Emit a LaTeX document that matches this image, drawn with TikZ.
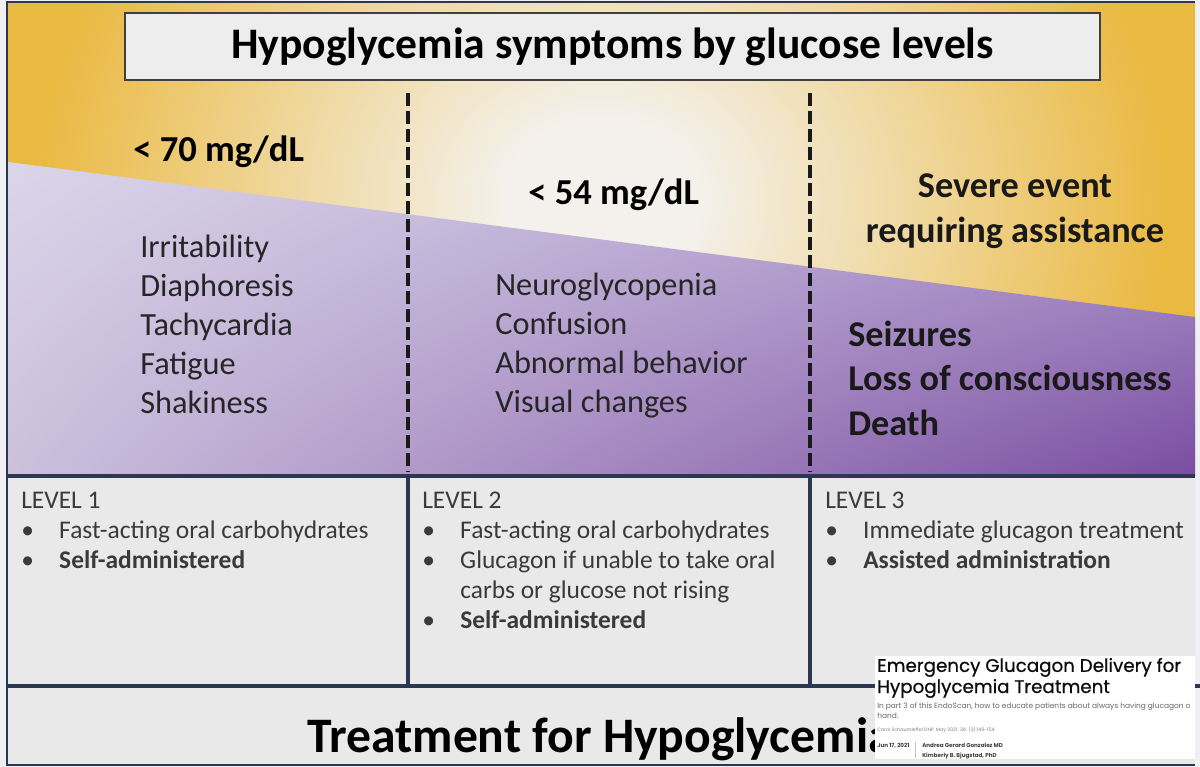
\documentclass[tikz,border=0pt]{standalone}
\usepackage{fontspec}
\setmainfont{Carlito}
\newfontfamily\insetfont{Poppins}
\usetikzlibrary{positioning, shadings}
\definecolor{Gold}{HTML}{EAB941}
\definecolor{Cream}{HTML}{F4F1EC}
\definecolor{LavLight}{HTML}{DAD5E8}
\definecolor{LavMid}{HTML}{CCC0DD}
\definecolor{PurpleMid}{HTML}{B3A0D1}
\definecolor{PurpleDark}{HTML}{7A4DA1}
\definecolor{Frame}{HTML}{2C3850}
\definecolor{BoxGray}{HTML}{E9E9E9}
\definecolor{PageGray}{HTML}{EEF0F3}
\definecolor{InkGray}{HTML}{3A3A3A}
\pgfdeclareradialshading{glow}{\pgfpoint{0bp}{0bp}}{%
  color(0bp)=(Cream); color(4bp)=(Cream); color(24bp)=(Gold); color(40bp)=(Gold)}
\newcommand{\bul}{\makebox[27pt][l]{\textbullet}}

\begin{document}
\begin{tikzpicture}[
    x=0.025cm, y=-0.025cm,
    frame/.style={draw=Frame, line width=2.4pt},
    divider/.style={draw=black!90, line width=3pt, dash pattern=on 8.9pt off 3.9pt},
    titlebox/.style={
      draw = black!75,
      line width = 1.2pt,
      fill = BoxGray!80!white,
      minimum width = 24.375cm,
      minimum height = 1.675cm,
      font = \fontsize{31}{37}\selectfont\bfseries,
    },
    head/.style={font=\fontsize{26}{31}\selectfont\bfseries, inner sep=0pt, anchor=base west},
    symptom/.style={font=\fontsize{23}{27.7}\selectfont, align=left, inner sep=0pt,
      anchor=base west, text=black!85},
    severe/.style={font=\fontsize{25.8}{31.3}\selectfont\bfseries, inner sep=0pt, text=black!90},
    level/.style={font=\fontsize{18.1}{21.3}\selectfont, align=left, inner sep=0pt,
      anchor=base west, text=InkGray},
    inset/.style={inner sep=0pt, anchor=base west, align=left},
  ]
  \useasboundingbox (0,0) rectangle (1200,767);
  \fill[PageGray] (0,0) rectangle (1200,767);

  % upper panel: gold glow, purple wedge
  \begin{scope}
    \clip (8,2) rectangle (1195,476);
    \shade[shading=glow] (8,-300) rectangle (1195,700);
  \end{scope}
  \begin{scope}
    \clip (8,162) -- (1195,317) -- (1195,476) -- (8,476) -- cycle;
    \shade[upper left=LavLight, upper right=PurpleMid,
      lower left=LavMid, lower right=PurpleDark] (8,162) rectangle (1195,476);
  \end{scope}

  % treatment panel
  \fill[BoxGray] (8,476) rectangle (1195,765);
  \draw[frame] (8,476) -- (1195,476);
  \draw[frame] (8,686) -- (1200,686);
  \draw[frame] (408,476) -- (408,686);
  \draw[frame] (810,476) -- (810,686);
  \draw[Frame, line width=1.6pt] (1195,2) -- (7,2) -- (7,765) -- (1195,765);

  % dashed level dividers
  \draw[divider] (408,93) -- (408,472);
  \draw[divider] (810,93) -- (810,472);

  \node[titlebox] (title) at (612.5,46.5) {Hypoglycemia symptoms by glucose levels};

  \node[head] (g70) at (133,162) {< 70 mg/dL};
  \node[head] (g54) at (528,205) {< 54 mg/dL};
  \node[severe, align=center, anchor=base] (g3) at (1015,242)
    {Severe event\\requiring assistance};

  \node[symptom] (s1) at (140,413)
    {Irritability\\Diaphoresis\\Tachycardia\\Fatigue\\Shakiness};
  \node[symptom] (s2) at (495,412)
    {Neuroglycopenia\\Confusion\\Abnormal behavior\\Visual changes};
  \node[severe, align=left, anchor=base west] (s3) at (848,435)
    {Seizures\\Loss of consciousness\\Death};

  \node[level] (t1) at (21,568)
    {LEVEL 1\\\bul Fast-acting oral carbohydrates\\\bul\textbf{Self-administered}};
  \node[level] (t2) at (422,628)
    {LEVEL 2\\\bul Fast-acting oral carbohydrates\\\bul Glucagon if unable to take oral\\
     \hspace*{27pt}carbs or glucose not rising\\\bul\textbf{Self-administered}};
  \node[level] (t3) at (825,568)
    {LEVEL 3\\\bul Immediate glucagon treatment\\\bul\textbf{Assisted administration}};

  \node[font=\fontsize{35.3}{42}\selectfont\bfseries, anchor=base, inner sep=0pt]
    (treat) at (600,752) {Treatment for Hypoglycemia};

  % article clipping
  \fill[white] (875,656) rectangle (1195,759);
  \begin{scope}
    \clip (875,656) rectangle (1195,759);
    \node[inset, font=\insetfont\addfontfeatures{FakeBold=0.7}\fontsize{13}{15}\selectfont,
      text=black!95] (art) at (877,693)
      {Emergency Glucagon Delivery for\\Hypoglycemia Treatment};
    \node[inset, font=\insetfont\fontsize{5.3}{7.1}\selectfont, text=black!60] (teaser) at (877,718)
      {In part 3 of this EndoScan, how to educate patients about always having glucagon o\\hand.};
    \node[inset, font=\insetfont\fontsize{3.4}{4}\selectfont, text=black!50] (cite) at (877,731)
      {Carol Schaumleffel DNP. May 2021. 36: (3):149-154.};
    \node[inset, font=\insetfont\bfseries\fontsize{4}{7}\selectfont, text=black!75] (date) at (877,747)
      {Jun 17, 2021};
    \node[inset, font=\insetfont\bfseries\fontsize{4}{7}\selectfont, text=black!75] (authors) at (922,757)
      {Andrea Gerard Gonzalez MD\\Kimberly B. Bjugstad, PhD};
  \end{scope}
  \draw[black!25, line width=0.4pt] (915,742) -- (915,758);
\end{tikzpicture}
\end{document}
